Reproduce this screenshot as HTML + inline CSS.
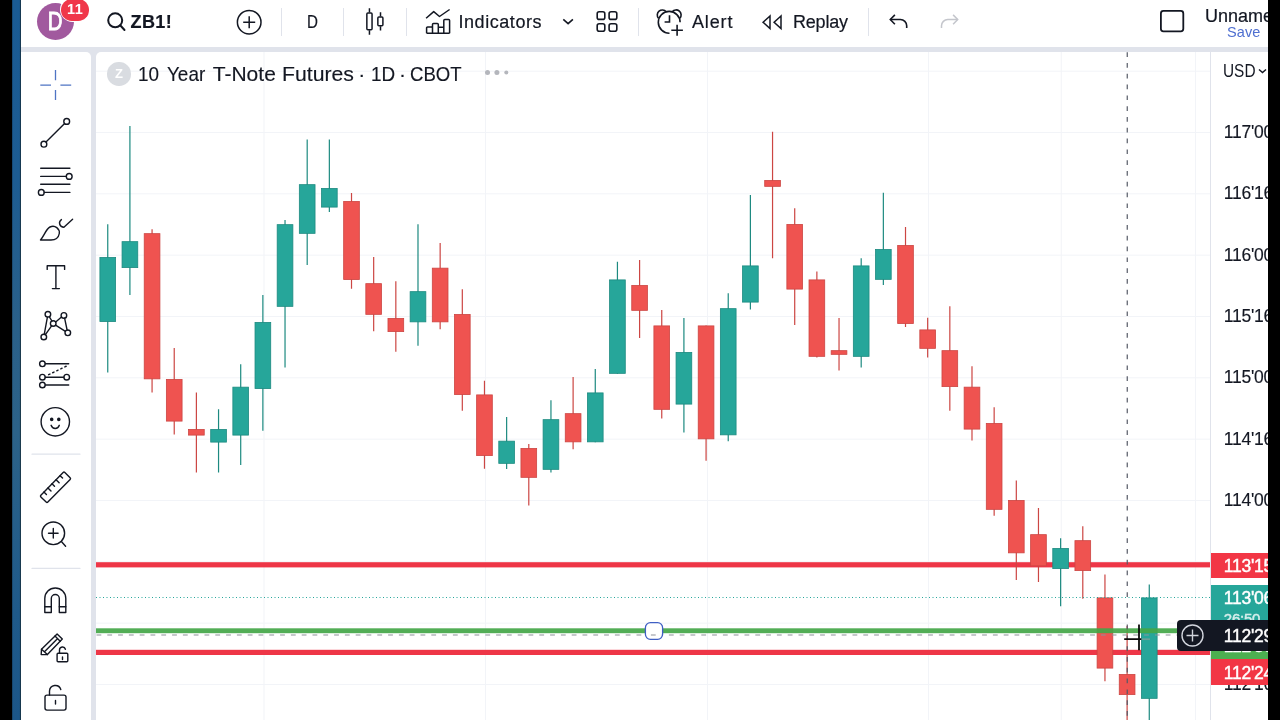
<!DOCTYPE html>
<html lang="en">
<head>
<meta charset="utf-8">
<title>ZB1! 10 Year T-Note Futures</title>
<style>
*{box-sizing:border-box;margin:0;padding:0}
html,body{width:1280px;height:720px;overflow:hidden;background:#fff}
body{font-family:"Liberation Sans",sans-serif;color:#131722}
#app{position:relative;width:1280px;height:720px;overflow:hidden;background:#fff}
.edge-black-l{position:absolute;left:0;top:0;width:12px;height:720px;background:#000;z-index:50}
.edge-blue-l{position:absolute;left:11.700px;top:0;width:9.300px;height:720px;background:linear-gradient(90deg,rgba(0,0,0,.35) 0,rgba(0,0,0,0) 12%,rgba(0,0,0,0) 82%,rgba(20,40,50,.75) 96%),linear-gradient(180deg,#1a5b94 0,#1d5c92 25%,#2a6089 45%,#2c6288 60%,#1f5a8a 85%,#1c5688 100%);z-index:50}
.edge-black-r{position:absolute;left:1268px;top:0;width:12px;height:720px;background:#000;z-index:50}
.bg-gap{position:absolute;left:21px;top:46px;width:1247px;height:674px;background:#e0e3eb}
.topbar{position:absolute;left:21px;top:0;width:1247px;height:47px;background:#fff}
.topbar .t{position:absolute;white-space:nowrap;font-size:18px;line-height:22px;color:#131722;-webkit-text-stroke:0.200px #131722}
.topbar .sep{position:absolute;top:8px;width:1px;height:28px;background:#e0e3eb}
.abs{position:absolute}
.leftbar{position:absolute;left:21px;top:52px;width:70px;height:668px;background:#fff;border-top-right-radius:5px}
.chart{position:absolute;left:96px;top:52px;width:1172px;height:668px;background:#fff;border-top-left-radius:5px;overflow:hidden}
.chart svg{position:absolute;left:-96px;top:-52px}
.lbl{position:absolute;white-space:nowrap;font-size:18px;line-height:22px;color:#131722}
.axis{position:absolute;left:1115px;top:0;width:57px;height:668px;overflow:hidden}
.axis .pl,.xh .pl{left:12.800px;font-size:17.500px;letter-spacing:-0.250px;line-height:22px}
.pl.w{-webkit-text-stroke:0.450px #fff}
.axis .pl{-webkit-text-stroke:0.150px #131722}
.axis .pl.w{-webkit-text-stroke:0.450px #fff}
.pl.w{color:#fff}
.tag{position:absolute;left:0;width:57px;overflow:hidden}
.xh{position:absolute;background:#131722;border-radius:4px 0 0 4px;overflow:hidden}
.ttl{position:absolute;left:0;top:9px;height:26px;font-size:21px;line-height:26px;color:#131722;-webkit-text-stroke:0.150px #131722}
.ttl span{position:absolute;top:0;white-space:nowrap;transform-origin:0 0;display:block}

</style>
</head>
<body>
<div id="app">
<div class="edge-black-l"></div>
<div class="edge-blue-l"></div>
<div class="bg-gap"></div>
<div class="topbar">
  <div class="abs" style="left:15.800px;top:2.800px;width:37.200px;height:37.200px;border-radius:50%;background:#a1599e;color:#fff;font-size:25.500px;line-height:37.600px;text-align:center;-webkit-text-stroke:0.900px #fff"><span style="display:inline-block;transform:scaleX(0.8)">D</span></div>
  <div class="abs" style="left:38.800px;top:-3px;width:30.500px;height:25.300px;border-radius:12.600px;background:#fff"></div>
  <div class="abs" style="left:40.400px;top:-1px;width:27.300px;height:21.700px;border-radius:10.800px;background:#f0374a;color:#fff;font-size:14.500px;line-height:21.500px;text-align:center;font-weight:bold;letter-spacing:0.300px">11</div>
  <svg class="abs" style="left:84px;top:10px" width="24" height="24" viewBox="0 0 24 24" fill="none" stroke="#131722" stroke-width="2"><circle cx="10.200" cy="10.300" r="7"/><path d="M15.200 15.300 L19.500 20" stroke-linecap="round"/></svg>
  <div class="t" id="t-sym" style="left:109.500px;top:11px;font-weight:bold;letter-spacing:0.400px">ZB1!</div>
  <svg class="abs" style="left:214px;top:8px" width="28" height="28" viewBox="0 0 28 28" fill="none" stroke="#131722" stroke-width="1.5"><circle cx="14.200" cy="14.200" r="11.800"/><path d="M14.200 8.200v12M8.200 14.200h12"/></svg>
  <div class="sep" style="left:260px"></div>
  <div class="t" id="t-d" style="left:285px;top:11px;width:13px;text-align:center;transform:scaleX(0.84);transform-origin:6.600px 0">D</div>
  <div class="sep" style="left:322px"></div>
  <svg class="abs" style="left:340px;top:6px" width="30" height="32" viewBox="0 0 30 32" fill="none" stroke="#131722" stroke-width="1.500"><path d="M8.450 2.200V6.500M8.450 24.200V28.750"/><rect x="5.850" y="6.950" width="5.200" height="16.800" rx="1"/><path d="M19.500 6.200V10.500M19.500 20.200V24.500"/><rect x="16.850" y="10.900" width="5.050" height="8.850" rx="1"/></svg>
  <div class="sep" style="left:385px"></div>
  <svg class="abs" style="left:404px;top:8px" width="28" height="28" viewBox="0 0 28 28" fill="none" stroke="#131722" stroke-width="1.5"><path d="M1.100 10.300 L8.700 3.600 L14.500 8.500 L24.600 1.500" stroke-linejoin="round"/><path d="M1.600 25.200V20.100a1 1 0 0 1 1 -1h3.900a1 1 0 0 1 1 1V25.200M7.500 20V16.500a1 1 0 0 1 1 -1h3.800a1 1 0 0 1 1 1V25.200M13.300 19.200h5.500M18.800 25.200V12.500a1 1 0 0 1 1 -1h3.800a1 1 0 0 1 1 1V25.200M7.500 25.200V20M1.600 25.200H24.600" stroke-linejoin="round"/></svg>
  <div class="t" id="t-ind" style="left:437.500px;top:11px;letter-spacing:0.550px">Indicators</div>
  <svg class="abs" style="left:540px;top:16px" width="14" height="12" viewBox="0 0 14 12" fill="none" stroke="#131722" stroke-width="1.6"><path d="M2.300 3.400 L7.100 7.700 L11.900 3.400"/></svg>
  <svg class="abs" style="left:573px;top:9px" width="26" height="26" viewBox="0 0 26 26" fill="none" stroke="#131722" stroke-width="1.6"><rect x="3.200" y="2.800" width="7.600" height="7.600" rx="2"/><rect x="15.100" y="2.800" width="7.700" height="7.600" rx="2"/><rect x="3.200" y="14.700" width="7.600" height="7.600" rx="2"/><rect x="15.100" y="14.700" width="7.700" height="7.600" rx="2"/></svg>
  <div class="sep" style="left:617px"></div>
  <svg class="abs" style="left:634px;top:8px" width="30" height="30" viewBox="0 0 30 30" fill="none" stroke="#131722" stroke-width="1.600"><path d="M14.500 25.200A10.900 10.900 0 1 1 25.100 14.300"/><path d="M14.500 7.200V14H9.600"/><path d="M3.500 10.300A4.900 4.900 0 1 1 11.200 3.700"/><path d="M17.200 3.700A4.900 4.900 0 1 1 24.900 10.300"/><path d="M22.100 16.700V27.700M16.300 22.200H27.900"/></svg>
  <div class="t" id="t-alert" style="left:671px;top:11px;letter-spacing:0.850px">Alert</div>
  <svg class="abs" style="left:739px;top:12px" width="26" height="20" viewBox="0 0 26 20" fill="none" stroke="#131722" stroke-width="1.500" stroke-linejoin="miter"><path d="M10 4L3.100 10.300L10 16.600Z"/><path d="M21 4L14.100 10.300L21 16.600Z"/></svg>
  <div class="t" id="t-replay" style="left:772px;top:11px;letter-spacing:-0.200px">Replay</div>
  <div class="sep" style="left:847px"></div>
  <svg class="abs" style="left:866px;top:11px" width="24" height="20" viewBox="0 0 24 20" fill="none" stroke="#131722" stroke-width="1.600"><path d="M7.900 3.900L3.300 8.550L7.900 13.300"/><path d="M3.500 8.550H13.400a6.300 6.300 0 0 1 6.300 6.300V17.100"/></svg>
  <svg class="abs" style="left:917px;top:11px" width="24" height="20" viewBox="0 0 24 20" fill="none" stroke="#c4c6cc" stroke-width="1.500"><path d="M15.100 3.900L19.700 8.550L15.100 13.300"/><path d="M19.500 8.550H9.800a6.300 6.300 0 0 0 -6.300 6.300V17.100"/></svg>
  <svg class="abs" style="left:1137px;top:8px" width="28" height="26" viewBox="0 0 28 26" fill="none" stroke="#131722" stroke-width="1.8"><rect x="2.900" y="2.900" width="22.400" height="20.400" rx="2.500"/></svg>
  <div class="t" id="t-un" style="left:1184px;top:4.500px">Unnamed</div>
  <div class="t" id="t-save" style="-webkit-text-stroke:0;left:1206px;top:23.300px;font-size:14.500px;line-height:18px;color:#4f6fd0;letter-spacing:0.100px">Save</div>
</div>

<div class="leftbar">
<svg class="abs" style="left:-21px;top:-52px" width="112" height="720" viewBox="0 0 112 720" fill="none" stroke="#131722" stroke-width="1.400" stroke-linecap="round" stroke-linejoin="round">
  <!-- crosshair -->
  <path d="M55.500 70V80.300M55.500 90V100M40.300 85.100H51M60.400 85.100H71.200" stroke="#4f74c4" stroke-width="1.300" stroke-linecap="butt"/>
  <!-- trend line -->
  <circle cx="66.700" cy="121.400" r="2.900"/><circle cx="43.900" cy="144.200" r="2.900"/><path d="M46 142.100L64.600 123.500"/>
  <!-- fib -->
  <path d="M40.700 168.200H69.900M40.700 176.400H66.200M40.700 184.300H69.900M44.300 192.400H69.900"/>
  <circle cx="69.200" cy="176.400" r="2.900"/><circle cx="41.300" cy="192.400" r="2.900"/>
  <!-- brush -->
  <path d="M40.500 240 C44 236 46 229 50 227 C55 224.500 60 229 59.300 233.500 C58.500 238 55 240 51 240 Z"/>
  <path d="M61.400 219.600 C58 222 59.500 227 63.900 227.200 L72.600 219.200"/>
  <!-- text -->
  <path d="M47.200 269.400V265.800H64.600V269.400M55.900 265.800V288.600M52.400 288.600H59.400"/>
  <!-- pattern -->
  <path d="M47.400 317.100L44.300 334.200M49.400 316.800L51.900 321M45.400 334.700L51.600 325.800M55.700 322L61.500 317M64.600 318.200L67.100 330M55.600 325.100L65.400 331.300"/>
  <circle cx="47.900" cy="314.300" r="2.800"/><circle cx="63.900" cy="315.400" r="2.800"/><circle cx="53.200" cy="323.500" r="2.800"/><circle cx="43.800" cy="337" r="2.800"/><circle cx="67.800" cy="332.800" r="2.800"/>
  <!-- long position -->
  <path d="M45.300 363.800H68.700M45.300 377.200H63.800M45.300 385H68.700"/>
  <path d="M48.600 374.700L66.700 366" stroke-dasharray="1.500 3"/>
  <circle cx="42.400" cy="363.800" r="2.800"/><circle cx="42.400" cy="377.200" r="2.800"/><circle cx="66.700" cy="377.200" r="2.800"/><circle cx="42.400" cy="385" r="2.800"/>
  <!-- smiley -->
  <circle cx="55.300" cy="421.800" r="14.200"/>
  <circle cx="51.700" cy="419.400" r="1.100" fill="#131722"/><circle cx="58.800" cy="419.400" r="1.100" fill="#131722"/>
  <path d="M51.100 425.300 C52.500 429.500 58 429.500 59.300 425.300"/>
  <!-- divider -->
  <path d="M32 454.200H80" stroke="#e0e3eb" stroke-width="1.200"/>
  <!-- ruler -->
  <g transform="translate(55.500 487.300) rotate(-45.500)">
    <rect x="-17.100" y="-4.900" width="34.200" height="9.800" rx="1.200"/>
    <path d="M-11.500 -4.900v3.500M-5.800 -4.900v4.300M0 -4.900v3.500M5.800 -4.900v4.300M11.500 -4.900v3.500"/>
  </g>
  <!-- zoom -->
  <circle cx="53.300" cy="533.300" r="11.300"/><path d="M53.300 528.500V538.100M48.500 533.300H58.100M61.400 541.500L65.600 546.200"/>
  <!-- divider -->
  <path d="M32 568.400H80" stroke="#e0e3eb" stroke-width="1.200"/>
  <!-- magnet -->
  <path d="M44.800 612.500V598.500A10.500 10.500 0 0 1 65.800 598.500V612.500H59.300V598.500A4 4 0 0 0 51.300 598.500V612.500Z"/>
  <path d="M44.800 606.700H51.300M59.300 606.700H65.800"/>
  <!-- pencil + lock -->
  <path d="M57.100 633.900L62.300 639.100L47.400 654.500L41.200 654.600L41.500 649.300Z"/>
  <path d="M55 636L60.200 641.200M41.500 649.300L47.400 654.500M44.500 651.800L57.400 638.800"/>
  <rect x="57.100" y="653.300" width="10.700" height="8.400" rx="1"/>
  <path d="M59.500 653.300V650A3 3 0 0 1 65.400 649.200M62.500 657V659.500"/>
  <!-- lock -->
  <rect x="45" y="695.100" width="21" height="15" rx="2"/>
  <path d="M49.500 695.100V691A5.800 5.800 0 0 1 60.800 689.500M55.500 700.500V704" />
</svg>
</div>

<div class="chart">
<svg width="1280" height="720" viewBox="0 0 1280 720">
<rect x="96" y="70.67" width="1114" height="1" fill="#f2f4f8"/>
<rect x="96" y="132.00" width="1114" height="1" fill="#f2f4f8"/>
<rect x="96" y="193.33" width="1114" height="1" fill="#f2f4f8"/>
<rect x="96" y="254.66" width="1114" height="1" fill="#f2f4f8"/>
<rect x="96" y="315.99" width="1114" height="1" fill="#f2f4f8"/>
<rect x="96" y="377.32" width="1114" height="1" fill="#f2f4f8"/>
<rect x="96" y="438.65" width="1114" height="1" fill="#f2f4f8"/>
<rect x="96" y="499.98" width="1114" height="1" fill="#f2f4f8"/>
<rect x="96" y="561.31" width="1114" height="1" fill="#f2f4f8"/>
<rect x="96" y="622.64" width="1114" height="1" fill="#f2f4f8"/>
<rect x="96" y="683.97" width="1114" height="1" fill="#f2f4f8"/>
<rect x="263.50" y="52" width="1" height="668" fill="#f2f4f8"/>
<rect x="485.00" y="52" width="1" height="668" fill="#f2f4f8"/>
<rect x="707.00" y="52" width="1" height="668" fill="#f2f4f8"/>
<rect x="928.00" y="52" width="1" height="668" fill="#f2f4f8"/>
<rect x="1060.75" y="52" width="1" height="668" fill="#f2f4f8"/>
<rect x="1195.00" y="52" width="1" height="668" fill="#f2f4f8"/>
<rect x="1210" y="52" width="1" height="668" fill="#e0e3eb"/>
<rect x="96" y="562.200" width="1114" height="5.200" fill="#ee3647"/>
<rect x="96" y="649.800" width="1114" height="5.200" fill="#ee3647"/>
<rect x="107.15" y="224.25" width="1.2" height="148.25" fill="#1d8a80"/>
<rect x="99.90" y="257.40" width="15.7" height="64.20" fill="#26a69a" stroke="#1d8a80" stroke-width="0.8"/>
<rect x="129.31" y="126.00" width="1.2" height="169.00" fill="#1d8a80"/>
<rect x="122.06" y="241.65" width="15.7" height="25.95" fill="#26a69a" stroke="#1d8a80" stroke-width="0.8"/>
<rect x="151.47" y="229.25" width="1.2" height="163.25" fill="#cc4643"/>
<rect x="144.22" y="233.65" width="15.7" height="145.20" fill="#ef5350" stroke="#cc4643" stroke-width="0.8"/>
<rect x="173.63" y="348.00" width="1.2" height="86.50" fill="#cc4643"/>
<rect x="166.38" y="379.40" width="15.7" height="41.70" fill="#ef5350" stroke="#cc4643" stroke-width="0.8"/>
<rect x="195.79" y="392.50" width="1.2" height="80.00" fill="#cc4643"/>
<rect x="188.54" y="429.40" width="15.7" height="5.70" fill="#ef5350" stroke="#cc4643" stroke-width="0.8"/>
<rect x="217.95" y="409.25" width="1.2" height="63.25" fill="#1d8a80"/>
<rect x="210.70" y="429.40" width="15.7" height="12.70" fill="#26a69a" stroke="#1d8a80" stroke-width="0.8"/>
<rect x="240.11" y="364.25" width="1.2" height="100.75" fill="#1d8a80"/>
<rect x="232.86" y="387.15" width="15.7" height="47.95" fill="#26a69a" stroke="#1d8a80" stroke-width="0.8"/>
<rect x="262.27" y="295.00" width="1.2" height="135.75" fill="#1d8a80"/>
<rect x="255.02" y="322.40" width="15.7" height="66.20" fill="#26a69a" stroke="#1d8a80" stroke-width="0.8"/>
<rect x="284.43" y="220.00" width="1.2" height="147.50" fill="#1d8a80"/>
<rect x="277.18" y="224.65" width="15.7" height="81.70" fill="#26a69a" stroke="#1d8a80" stroke-width="0.8"/>
<rect x="306.59" y="139.50" width="1.2" height="125.50" fill="#1d8a80"/>
<rect x="299.34" y="184.65" width="15.7" height="48.70" fill="#26a69a" stroke="#1d8a80" stroke-width="0.8"/>
<rect x="328.75" y="139.50" width="1.2" height="72.50" fill="#1d8a80"/>
<rect x="321.50" y="188.40" width="15.7" height="18.70" fill="#26a69a" stroke="#1d8a80" stroke-width="0.8"/>
<rect x="350.91" y="193.00" width="1.2" height="95.75" fill="#cc4643"/>
<rect x="343.66" y="201.40" width="15.7" height="78.20" fill="#ef5350" stroke="#cc4643" stroke-width="0.8"/>
<rect x="373.07" y="257.00" width="1.2" height="74.25" fill="#cc4643"/>
<rect x="365.82" y="283.65" width="15.7" height="30.70" fill="#ef5350" stroke="#cc4643" stroke-width="0.8"/>
<rect x="395.23" y="281.25" width="1.2" height="70.50" fill="#cc4643"/>
<rect x="387.98" y="318.40" width="15.7" height="13.20" fill="#ef5350" stroke="#cc4643" stroke-width="0.8"/>
<rect x="417.39" y="224.25" width="1.2" height="121.50" fill="#1d8a80"/>
<rect x="410.14" y="291.65" width="15.7" height="30.20" fill="#26a69a" stroke="#1d8a80" stroke-width="0.8"/>
<rect x="439.55" y="243.00" width="1.2" height="86.25" fill="#cc4643"/>
<rect x="432.30" y="268.15" width="15.7" height="53.70" fill="#ef5350" stroke="#cc4643" stroke-width="0.8"/>
<rect x="461.71" y="289.25" width="1.2" height="121.50" fill="#cc4643"/>
<rect x="454.46" y="314.40" width="15.7" height="80.20" fill="#ef5350" stroke="#cc4643" stroke-width="0.8"/>
<rect x="483.87" y="380.75" width="1.2" height="88.00" fill="#cc4643"/>
<rect x="476.62" y="394.90" width="15.7" height="60.70" fill="#ef5350" stroke="#cc4643" stroke-width="0.8"/>
<rect x="506.03" y="417.00" width="1.2" height="52.00" fill="#1d8a80"/>
<rect x="498.78" y="441.15" width="15.7" height="22.20" fill="#26a69a" stroke="#1d8a80" stroke-width="0.8"/>
<rect x="528.19" y="444.00" width="1.2" height="61.50" fill="#cc4643"/>
<rect x="520.94" y="448.40" width="15.7" height="28.95" fill="#ef5350" stroke="#cc4643" stroke-width="0.8"/>
<rect x="550.35" y="400.25" width="1.2" height="72.25" fill="#1d8a80"/>
<rect x="543.10" y="419.65" width="15.7" height="49.70" fill="#26a69a" stroke="#1d8a80" stroke-width="0.8"/>
<rect x="572.51" y="377.00" width="1.2" height="72.25" fill="#cc4643"/>
<rect x="565.26" y="413.65" width="15.7" height="28.20" fill="#ef5350" stroke="#cc4643" stroke-width="0.8"/>
<rect x="594.67" y="369.00" width="1.2" height="73.25" fill="#1d8a80"/>
<rect x="587.42" y="392.90" width="15.7" height="48.95" fill="#26a69a" stroke="#1d8a80" stroke-width="0.8"/>
<rect x="616.83" y="261.75" width="1.2" height="112.00" fill="#1d8a80"/>
<rect x="609.58" y="279.90" width="15.7" height="93.45" fill="#26a69a" stroke="#1d8a80" stroke-width="0.8"/>
<rect x="638.99" y="260.00" width="1.2" height="78.00" fill="#cc4643"/>
<rect x="631.74" y="285.40" width="15.7" height="24.95" fill="#ef5350" stroke="#cc4643" stroke-width="0.8"/>
<rect x="661.15" y="310.00" width="1.2" height="108.50" fill="#cc4643"/>
<rect x="653.90" y="325.90" width="15.7" height="83.45" fill="#ef5350" stroke="#cc4643" stroke-width="0.8"/>
<rect x="683.31" y="318.00" width="1.2" height="114.50" fill="#1d8a80"/>
<rect x="676.06" y="352.40" width="15.7" height="51.70" fill="#26a69a" stroke="#1d8a80" stroke-width="0.8"/>
<rect x="705.47" y="325.50" width="1.2" height="135.25" fill="#cc4643"/>
<rect x="698.22" y="325.90" width="15.7" height="112.95" fill="#ef5350" stroke="#cc4643" stroke-width="0.8"/>
<rect x="727.63" y="293.25" width="1.2" height="148.00" fill="#1d8a80"/>
<rect x="720.38" y="308.65" width="15.7" height="126.20" fill="#26a69a" stroke="#1d8a80" stroke-width="0.8"/>
<rect x="749.79" y="195.00" width="1.2" height="114.50" fill="#1d8a80"/>
<rect x="742.54" y="265.90" width="15.7" height="36.20" fill="#26a69a" stroke="#1d8a80" stroke-width="0.8"/>
<rect x="771.95" y="131.75" width="1.2" height="126.50" fill="#cc4643"/>
<rect x="764.70" y="180.40" width="15.7" height="5.95" fill="#ef5350" stroke="#cc4643" stroke-width="0.8"/>
<rect x="794.11" y="208.25" width="1.2" height="116.75" fill="#cc4643"/>
<rect x="786.86" y="224.40" width="15.7" height="64.70" fill="#ef5350" stroke="#cc4643" stroke-width="0.8"/>
<rect x="816.27" y="271.50" width="1.2" height="86.00" fill="#cc4643"/>
<rect x="809.02" y="279.90" width="15.7" height="76.45" fill="#ef5350" stroke="#cc4643" stroke-width="0.8"/>
<rect x="838.43" y="318.00" width="1.2" height="52.50" fill="#cc4643"/>
<rect x="831.18" y="350.65" width="15.7" height="3.70" fill="#ef5350" stroke="#cc4643" stroke-width="0.8"/>
<rect x="860.59" y="258.25" width="1.2" height="109.25" fill="#1d8a80"/>
<rect x="853.34" y="265.90" width="15.7" height="90.45" fill="#26a69a" stroke="#1d8a80" stroke-width="0.8"/>
<rect x="882.75" y="192.75" width="1.2" height="92.25" fill="#1d8a80"/>
<rect x="875.50" y="249.40" width="15.7" height="29.95" fill="#26a69a" stroke="#1d8a80" stroke-width="0.8"/>
<rect x="904.91" y="227.00" width="1.2" height="100.00" fill="#cc4643"/>
<rect x="897.66" y="245.40" width="15.7" height="78.20" fill="#ef5350" stroke="#cc4643" stroke-width="0.8"/>
<rect x="927.07" y="317.75" width="1.2" height="39.75" fill="#cc4643"/>
<rect x="919.82" y="329.90" width="15.7" height="18.45" fill="#ef5350" stroke="#cc4643" stroke-width="0.8"/>
<rect x="949.23" y="306.25" width="1.2" height="104.50" fill="#cc4643"/>
<rect x="941.98" y="350.65" width="15.7" height="35.95" fill="#ef5350" stroke="#cc4643" stroke-width="0.8"/>
<rect x="971.39" y="366.25" width="1.2" height="74.25" fill="#cc4643"/>
<rect x="964.14" y="387.15" width="15.7" height="41.95" fill="#ef5350" stroke="#cc4643" stroke-width="0.8"/>
<rect x="993.55" y="407.25" width="1.2" height="108.50" fill="#cc4643"/>
<rect x="986.30" y="423.40" width="15.7" height="85.95" fill="#ef5350" stroke="#cc4643" stroke-width="0.8"/>
<rect x="1015.71" y="480.50" width="1.2" height="99.50" fill="#cc4643"/>
<rect x="1008.46" y="500.40" width="15.7" height="52.45" fill="#ef5350" stroke="#cc4643" stroke-width="0.8"/>
<rect x="1037.87" y="508.00" width="1.2" height="74.00" fill="#cc4643"/>
<rect x="1030.62" y="534.65" width="15.7" height="31.20" fill="#ef5350" stroke="#cc4643" stroke-width="0.8"/>
<rect x="1060.03" y="538.25" width="1.2" height="68.00" fill="#1d8a80"/>
<rect x="1052.78" y="548.40" width="15.7" height="20.20" fill="#26a69a" stroke="#1d8a80" stroke-width="0.8"/>
<rect x="1082.19" y="526.25" width="1.2" height="72.50" fill="#cc4643"/>
<rect x="1074.94" y="540.65" width="15.7" height="29.95" fill="#ef5350" stroke="#cc4643" stroke-width="0.8"/>
<rect x="1104.35" y="574.50" width="1.2" height="106.75" fill="#cc4643"/>
<rect x="1097.10" y="597.90" width="15.7" height="70.20" fill="#ef5350" stroke="#cc4643" stroke-width="0.8"/>
<rect x="1126.51" y="626.00" width="1.2" height="96.00" fill="#cc4643"/>
<rect x="1119.26" y="674.40" width="15.7" height="20.20" fill="#ef5350" stroke="#cc4643" stroke-width="0.8"/>
<rect x="1148.67" y="584.50" width="1.2" height="137.50" fill="#1d8a80"/>
<rect x="1141.42" y="597.90" width="15.7" height="100.45" fill="#26a69a" stroke="#1d8a80" stroke-width="0.8"/>
<rect x="96" y="628.300" width="1114" height="4.900" fill="#43a648" fill-opacity="0.92"/>
<line x1="96" y1="597.500" x2="1210" y2="597.500" stroke="#26a69a" stroke-width="1" stroke-dasharray="1 2.500"/>
<line x1="96.500" y1="635" x2="1210" y2="635" stroke="#8e9199" stroke-width="1.100" stroke-dasharray="4.800 6"/>
<line x1="1127.250" y1="52.200" x2="1127.250" y2="720" stroke="#555a66" stroke-width="1.200" stroke-dasharray="4.700 6.100"/>
<rect x="645.400" y="622.700" width="17.200" height="16.600" rx="5" fill="#fff" stroke="#3f5fc4" stroke-width="1.300"/>
<line x1="646" y1="635" x2="662" y2="635" stroke="#8e9199" stroke-width="1.100" stroke-dasharray="4.800 6" stroke-dashoffset="5.900"/>
<!-- mouse cursor cross -->
<path d="M1141.300 639.200H1150" stroke="#6d9e98" stroke-width="1.700" fill="none"/>
<path d="M1124.200 639.200H1141.300M1139 624.600V650.200" stroke="#0a0a0a" stroke-width="1.800" fill="none"/>
</svg>
<!-- legend -->
<div class="abs" style="left:11.200px;top:10px;width:23.500px;height:23.500px;border-radius:50%;background:#d9dce1;color:#fff;font-size:13px;line-height:23px;text-align:center;font-weight:bold">Z</div>
<div class="ttl" id="t-title"><span style="left:41.85px;transform:scaleX(0.9)">10</span> <span style="left:71.10px;transform:scaleX(0.9)">Year</span> <span style="left:116.80px;transform:scaleX(1.0)">T-Note</span> <span style="left:185.70px;transform:scaleX(1.01)">Futures</span> <span style="left:262.30px;transform:scaleX(1)">·</span> <span style="left:274.70px;transform:scaleX(0.9)">1D</span> <span style="left:302.90px;transform:scaleX(1)">·</span> <span style="left:314.10px;transform:scaleX(0.884)">CBOT</span></div>
<div class="abs" style="left:388.700px;top:17.700px;width:5px;height:5px;border-radius:50%;background:#b4b6bc;box-shadow:9.400px 0 0 #b4b6bc,18.800px 0 0 -0.500px #b4b6bc"></div>
<!-- price axis -->
<div class="axis">
  <div class="lbl" id="t-usd" style="left:11.800px;top:8px;transform:scaleX(0.855);transform-origin:0 0">USD</div>
  <svg class="abs" style="left:46px;top:13px" width="12" height="12" viewBox="0 0 12 12" fill="none" stroke="#131722" stroke-width="1.500"><path d="M2 4.500 L5.500 7.500 L9 4.500"/></svg>
  <div class="lbl pl" style="top:69.0px">117'00</div>
  <div class="lbl pl" style="top:130.3px">116'16</div>
  <div class="lbl pl" style="top:191.7px">116'00</div>
  <div class="lbl pl" style="top:253.0px">115'16</div>
  <div class="lbl pl" style="top:314.3px">115'00</div>
  <div class="lbl pl" style="top:375.7px">114'16</div>
  <div class="lbl pl" style="top:437.0px">114'00</div>
  <div class="lbl pl" style="top:621.0px">112'16</div>
  <div class="tag" style="top:500.500px;height:25px;background:#f23645"><span class="lbl pl w" style="top:2px">113'15</span></div>
  <div class="tag" style="top:532.500px;height:40px;background:#26a69a"><span class="lbl pl w" style="top:2px">113'06</span><span class="lbl pl w" style="top:23px;font-size:15px;opacity:.8">26:50</span></div>
  <div class="tag" style="top:581px;height:25.800px;background:#4caf50"><span class="lbl pl w" style="top:2px">112'30</span></div>
  <div class="tag" style="top:606.800px;height:26.200px;background:#f23645"><span class="lbl pl w" style="top:3px">112'24</span></div>
</div>
<div class="xh" style="left:1081px;top:567.500px;width:91px;height:31px">
  <svg class="abs" style="left:3px;top:3px" width="26" height="26" viewBox="0 0 26 26" fill="none" stroke="#d1d4dc" stroke-width="1.400"><circle cx="12.500" cy="12.500" r="10.500"/><path d="M12.500 6.500v12M6.500 12.500h12"/></svg>
  <span class="lbl pl w" style="left:46.800px;top:5px">112'29</span>
</div>
</div>

<div class="edge-black-r"></div>
</div>
</body>
</html>
